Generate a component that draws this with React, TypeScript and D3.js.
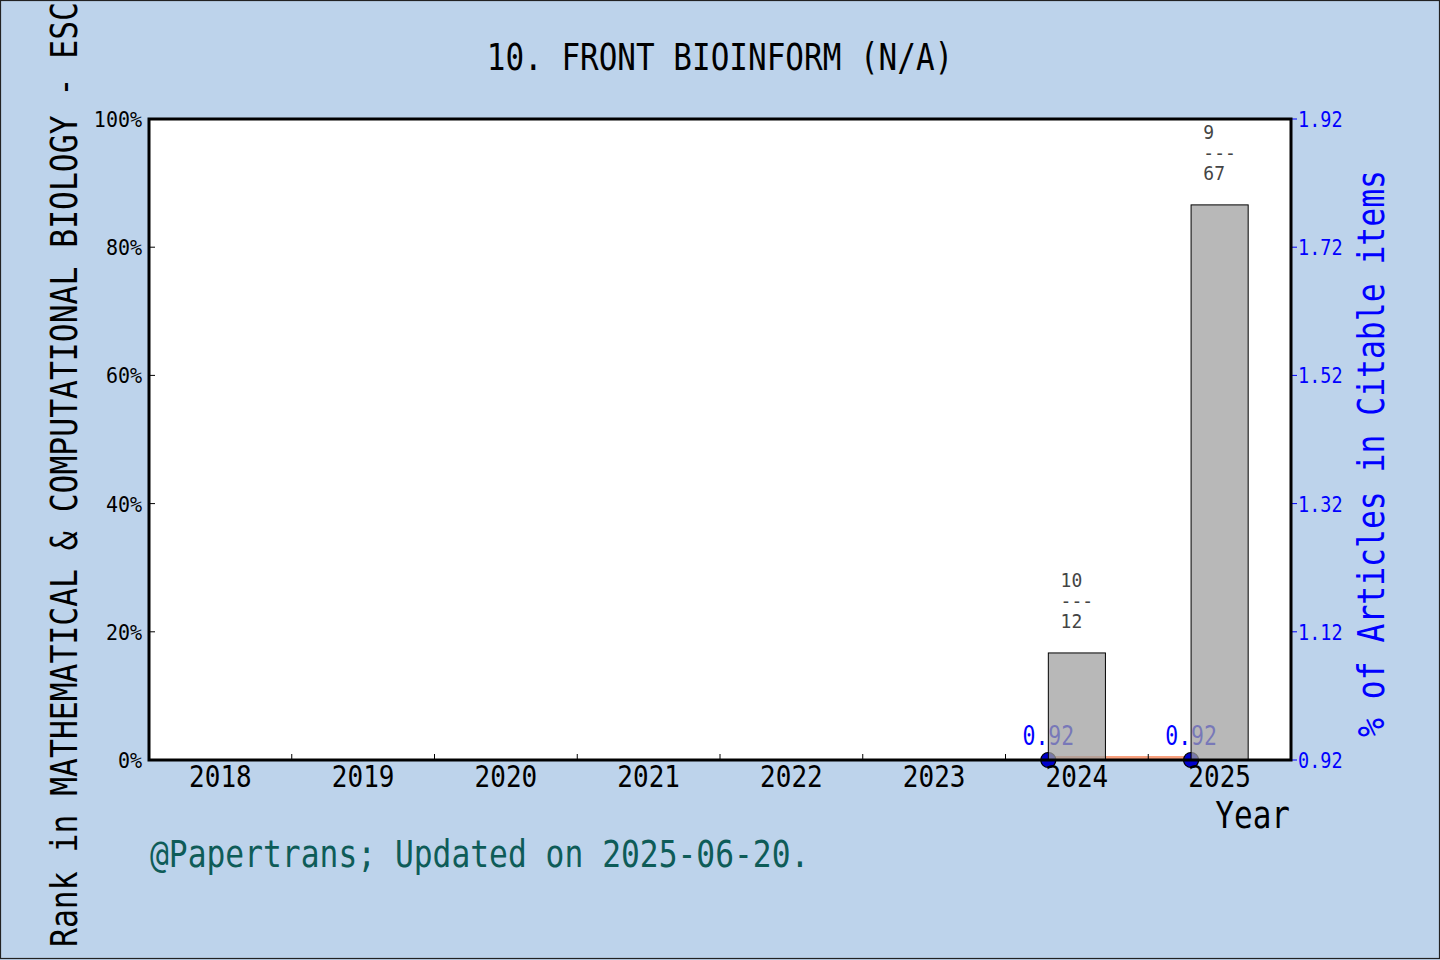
import React from 'react';
import * as d3 from 'd3';

// chart values
const years = ['2018', '2019', '2020', '2021', '2022', '2023', '2024', '2025'];
const ranks: (number | null)[] = [null, null, null, null, null, null, 10, 9];
const totals: (number | null)[] = [null, null, null, null, null, null, 12, 67];
const rankPct: (number | null)[] = [null, null, null, null, null, null, 16.7, 86.6];
const citable: (number | null)[] = [null, null, null, null, null, null, 0.92, 0.92];
const leftTicks = [0, 20, 40, 60, 80, 100];
const rightTicks = [0.92, 1.12, 1.32, 1.52, 1.72, 1.92];

const W = 1440;
const H = 960;
const margin = { top: 119, right: 149, bottom: 200, left: 149 };
const plotR = W - margin.right;
const plotB = H - margin.bottom;

const BG = '#bdd3eb';
const BLUE = '#0000ff';
const MONO = '"DejaVu Sans Mono", "Liberation Mono", monospace';

// narrow, tall monospace text (stretched vertically)
const T: React.FC<{
  x: number; y: number; fs: number; sy?: number; anchor?: string;
  fill?: string; rotate?: number; children: React.ReactNode;
}> = ({ x, y, fs, sy = 1.2, anchor = 'start', fill = '#000', rotate = 0, children }) => (
  <text
    transform={`translate(${x},${y}) rotate(${rotate}) scale(1,${sy})`}
    fontFamily={MONO}
    fontSize={fs}
    textAnchor={anchor}
    fill={fill}
  >
    {children}
  </text>
);

export default function App() {
  const x = d3.scaleBand<string>().domain(years).range([margin.left, plotR]).padding(0);
  const bw = x.bandwidth();
  const yL = d3.scaleLinear().domain([0, 100]).range([plotB, margin.top]);
  const yR = d3.scaleLinear().domain([0.92, 1.92]).range([plotB, margin.top]);

  const cx = (y: string) => (x(y) || 0) + bw / 2;
  const lineX = (y: string) => cx(y) - bw * 0.2;

  const linePts = years
    .map((y, i) => ({ y, v: citable[i] }))
    .filter(d => d.v != null) as { y: string; v: number }[];
  const line = d3.line<{ y: string; v: number }>()
    .x(d => lineX(d.y))
    .y(d => yR(d.v));

  const barData = years
    .map((y, i) => ({ y, pct: rankPct[i], rank: ranks[i], total: totals[i] }))
    .filter(d => d.pct != null) as { y: string; pct: number; rank: number; total: number }[];

  const labelAdv = 18 * 0.602;

  return (
    <div style={{ position: 'fixed', left: 0, top: 0 }}>
      <svg width={W} height={H} style={{ display: 'block' }}>
        <rect x={0} y={0} width={W} height={H} fill={BG} />
        <rect x={0.5} y={0.5} width={W - 1} height={H - 2} fill="none" stroke="#222" strokeWidth={1.2} />

        {/* plot area */}
        <rect x={margin.left} y={margin.top} width={plotR - margin.left} height={plotB - margin.top} fill="#fff" />

        {/* citable line + markers */}
        <path d={line(linePts) || ''} fill="none" stroke="#f8a07e" strokeWidth={3} transform="translate(0,-2.5)" />
        {linePts.map(d => (
          <circle key={'c' + d.y} cx={lineX(d.y)} cy={yR(d.v)} r={7.5} fill="#0000cc" stroke="#000" strokeWidth={1.2} />
        ))}
        {linePts.map(d => (
          <T key={'v' + d.y} x={lineX(d.y)} y={yR(d.v) - 15} fs={21.5} anchor="middle" fill={BLUE}>
            {d.v.toFixed(2)}
          </T>
        ))}

        {/* rank bars */}
        {barData.map(d => (
          <rect
            key={'b' + d.y}
            x={cx(d.y) - bw * 0.2}
            y={yL(d.pct)}
            width={bw * 0.4}
            height={plotB - yL(d.pct)}
            fill="#a0a0a0"
            fillOpacity={0.75}
            stroke="#000"
            strokeWidth={1}
          />
        ))}
        {barData.map(d => {
          const lx = cx(d.y) - labelAdv * 1.5;
          const top = yL(d.pct);
          return (
            <g key={'l' + d.y}>
              <T x={lx} y={top - 66} fs={18} sy={1.12} fill="#444">{d.rank}</T>
              <T x={lx} y={top - 45} fs={18} sy={1.12} fill="#444">---</T>
              <T x={lx} y={top - 24.5} fs={18} sy={1.12} fill="#444">{d.total}</T>
            </g>
          );
        })}

        {/* x ticks between categories (inward) */}
        {years.slice(1).map(y => (
          <line key={'xt' + y} x1={x(y)} x2={x(y)} y1={plotB} y2={plotB - 6} stroke="#000" strokeWidth={1} />
        ))}
        {years.map(y => (
          <T key={'xl' + y} x={cx(y)} y={plotB + 27} fs={26} sy={1.17} anchor="middle">{y}</T>
        ))}

        {/* left axis */}
        {leftTicks.map(t => (
          <g key={'lt' + t}>
            <line x1={margin.left} x2={margin.left + 6} y1={yL(t)} y2={yL(t)} stroke="#000" strokeWidth={1} />
            <T x={margin.left - 7} y={yL(t) + 8} fs={20} sy={1.1} anchor="end">{t + '%'}</T>
          </g>
        ))}

        {/* right axis */}
        {rightTicks.map(t => (
          <g key={'rt' + t}>
            <line x1={plotR} x2={plotR + 6} y1={yR(t)} y2={yR(t)} stroke={BLUE} strokeWidth={1} />
            <T x={plotR + 7} y={yR(t) + 8} fs={18.5} sy={1.15} fill={BLUE}>{t.toFixed(2)}</T>
          </g>
        ))}

        {/* spines */}
        <rect x={margin.left} y={margin.top} width={plotR - margin.left} height={plotB - margin.top} fill="none" stroke="#000" strokeWidth={3} />

        {/* titles */}
        <T x={W / 2} y={69.5} fs={31} anchor="middle">10. FRONT BIOINFORM (N/A)</T>
        <T x={plotR - 1} y={828} fs={31}  anchor="end">Year</T>
        <T x={77} y={947} fs={31.4} rotate={-90}>Rank in MATHEMATICAL &amp; COMPUTATIONAL BIOLOGY - ESCI</T>
        <T x={1384} y={737} fs={31.4} rotate={-90} fill={BLUE}>% of Articles in Citable items</T>
        <T x={150} y={867} fs={31.3} fill="#0e5c58">@Papertrans; Updated on 2025-06-20.</T>
      </svg>
    </div>
  );
}
